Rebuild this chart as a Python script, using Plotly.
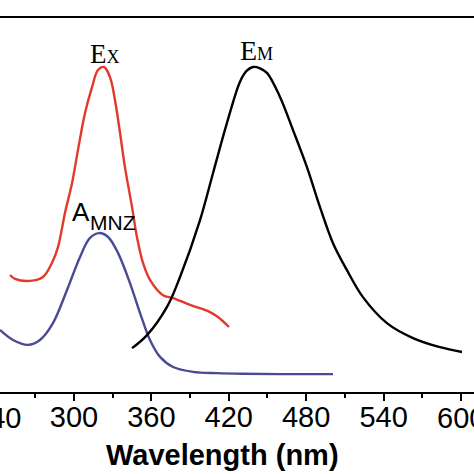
import plotly.graph_objects as go

# Excitation spectrum (Ex) - red
ex_wl = [250.4, 254.3, 265.9, 276.0, 282.9, 287.6, 293.0, 298.5, 303.1, 308.5, 314.0,
         318.6, 323.3, 327.9, 331.8, 335.7, 339.5, 345.0, 348.8, 353.5, 358.9, 369.0,
         376.8, 390.0, 405.4, 411.6, 420.2]
ex_int = [0.360, 0.348, 0.342, 0.354, 0.397, 0.446, 0.551, 0.643, 0.745, 0.858, 0.938,
          0.991, 1.000, 0.969, 0.898, 0.797, 0.692, 0.569, 0.477, 0.397, 0.345, 0.298,
          0.289, 0.268, 0.246, 0.231, 0.200]

# Absorption of MNZ - blue
ab_wl = [242.6, 252.7, 264.3, 273.6, 283.7, 294.6, 304.6, 312.4, 319.4, 326.4, 334.1,
         343.4, 351.2, 358.9, 366.7, 376.8, 392.3, 410.8, 430.0, 460.0, 500.8]
ab_int = [0.191, 0.160, 0.145, 0.160, 0.212, 0.314, 0.415, 0.474, 0.489, 0.477, 0.428,
          0.335, 0.243, 0.160, 0.108, 0.077, 0.062, 0.058, 0.056, 0.055, 0.055]

# Emission spectrum (Em) - black
em_wl = [345.0, 356.6, 372.1, 382.2, 397.7, 407.8, 418.6, 428.7, 433.8, 438.8, 444.2, 449.6,
         459.7, 469.8, 480.6, 490.7, 500.8, 511.6, 524.0, 542.6, 562.8, 583.7, 600.8]
em_int = [0.135, 0.175, 0.262, 0.354, 0.529, 0.674, 0.828, 0.955, 0.988, 1.000, 0.996, 0.982,
          0.908, 0.806, 0.692, 0.569, 0.458, 0.375, 0.292, 0.212, 0.166, 0.138, 0.123]

tick_vals = [300, 360, 420, 480, 540, 600]
tick_text = ["300", "360", "420", "480", "540", ""]
x_title = "Wavelength (nm)"

fig = go.Figure()
fig.add_trace(go.Scatter(x=ex_wl, y=ex_int, mode="lines",
                         line=dict(color="#e2392d", width=2.4, shape="spline", smoothing=1.0)))
fig.add_trace(go.Scatter(x=ab_wl, y=ab_int, mode="lines",
                         line=dict(color="#4b4b95", width=2.4, shape="spline", smoothing=1.0)))
fig.add_trace(go.Scatter(x=em_wl, y=em_int, mode="lines",
                         line=dict(color="#000000", width=2.4, shape="spline", smoothing=1.0)))

serif = "Liberation Serif, Times New Roman, serif"
sans = "Liberation Sans, Arial, sans-serif"

annots = [
    dict(x=310.9, y=0.988, xref="x", yref="y", xanchor="left", yanchor="bottom",
         text="E<span style='font-size:18px'>X</span>", showarrow=False,
         font=dict(family=serif, size=27, color="black")),
    dict(x=427.1, y=0.997, xref="x", yref="y", xanchor="left", yanchor="bottom",
         text="E<span style='font-size:18px'>M</span>", showarrow=False,
         font=dict(family=serif, size=28, color="black")),
    dict(x=296.9, y=0.502, xref="x", yref="y", xanchor="left", yanchor="bottom",
         text="A", showarrow=False, font=dict(family=sans, size=26, color="black")),
    dict(x=310.9, y=0.480, xref="x", yref="y", xanchor="left", yanchor="bottom",
         text="MNZ", showarrow=False, font=dict(family=sans, size=21, color="black")),
    dict(x=-0.007, y=-0.0695, xref="paper", yref="paper", xanchor="center", yanchor="middle",
         text="240", showarrow=False, font=dict(family=sans, size=29, color="black")),
    dict(x=0.9726, y=-0.0695, xref="paper", yref="paper", xanchor="center", yanchor="middle",
         text="600", showarrow=False, font=dict(family=sans, size=29, color="black")),
    dict(x=0.470, y=-0.168, xref="paper", yref="paper", xanchor="center", yanchor="middle",
         text="<b>" + x_title + "</b>", showarrow=False,
         font=dict(family=sans, size=29, color="black")),
]

fig.update_layout(
    width=474, height=474,
    margin=dict(l=0, r=0, t=18, b=82),
    paper_bgcolor="white", plot_bgcolor="white",
    showlegend=False,
    annotations=annots,
    xaxis=dict(
        range=[242.64, 610.1],
        tickvals=tick_vals, ticktext=tick_text,
        ticks="outside", ticklen=7, tickwidth=2, tickcolor="black",
        ticklabelstandoff=-9,
        minor=dict(dtick=30, tick0=0, ticks="outside", ticklen=4, tickwidth=2, tickcolor="black"),
        showline=True, linewidth=2, linecolor="black", mirror=True,
        showgrid=False, zeroline=False,
        tickfont=dict(family=sans, size=29, color="black"),
    ),
    yaxis=dict(range=[0, 1.1508], visible=False, showgrid=False, zeroline=False),
)

fig.write_html("out.html")
